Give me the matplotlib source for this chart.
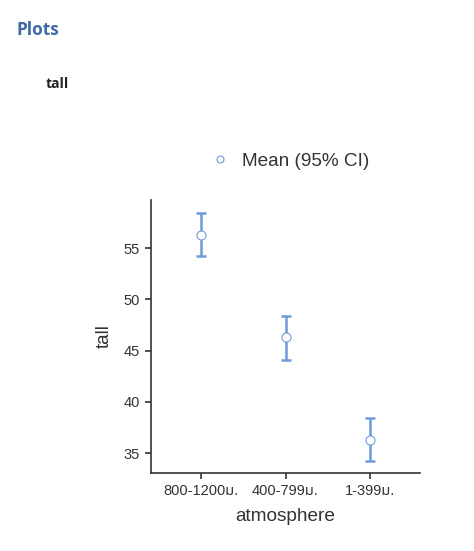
import matplotlib
matplotlib.use("Agg")
import matplotlib.pyplot as plt
from matplotlib.lines import Line2D

categories = ["800-1200ม.", "400-799ม.", "1-399ม."]
means = [56.3, 46.3, 36.3]
ci_low = [54.2, 44.1, 34.2]
ci_high = [58.4, 48.4, 38.4]
yticks = [35, 40, 45, 50, 55]

blue = "#6f9bd8"
fam = ["Liberation Sans", "Noto Sans Thai"]

fig = plt.figure(figsize=(4.74, 5.51), dpi=100)
W, H = 474, 551
# axes box in pixels: left 151, right 420, top 200, bottom 473
ax = fig.add_axes([151 / W, 1 - 473 / H, (420 - 151) / W, (473 - 200) / H])

x = list(range(len(categories)))
err = [[m - lo for m, lo in zip(means, ci_low)],
       [hi - m for m, hi in zip(means, ci_high)]]
ax.errorbar(x, means, yerr=err, fmt="none", ecolor=blue, elinewidth=1.8,
            capsize=3.5, capthick=1.8)
ax.plot(x, means, "o", ms=6.5, mfc="white", mec=blue, mew=0.8, zorder=3)

ax.set_xlim(-0.6, 2.6)
ax.set_ylim(33.05, 59.7)
ax.set_yticks(yticks)
ax.set_xticks(x)
ax.set_xticklabels(categories, family=fam, fontsize=10.5, color="#333333")
for lab in ax.get_yticklabels():
    lab.set_family(fam)
    lab.set_fontsize(10.5)
    lab.set_color("#333333")
ax.tick_params(length=4, width=1.2, color="#333333", pad=4)
for s in ["top", "right"]:
    ax.spines[s].set_visible(False)
for s in ["left", "bottom"]:
    ax.spines[s].set_linewidth(1.2)
    ax.spines[s].set_color("#333333")

ax.set_xlabel("atmosphere", family=fam, fontsize=13.7, color="#333333", labelpad=7)
ax.set_ylabel("tall", family=fam, fontsize=13.7, color="#333333", labelpad=8)

# legend above the plot
handle = Line2D([], [], marker="o", ls="none", ms=5, mfc="white", mec=blue, mew=0.8)
fig.legend([handle], ["Mean (95% CI)"], loc="center left",
           bbox_to_anchor=(210.5 / W, 1 - 161 / H), frameon=False,
           prop={"family": fam, "size": 13.7}, handlelength=1.0,
           handletextpad=0.64, borderpad=0, borderaxespad=0,
           labelcolor="#333333")

fig.text(16 / W, 1 - 30 / H, "Plots", family=["Open Sans"], fontweight="bold",
         fontsize=12.5, color="#3e6aa8", va="center")
fig.text(46 / W, 1 - 84 / H, "tall", family=["Open Sans"], fontweight="bold",
         fontsize=10, color="#222222", va="center")

fig.savefig("out.png")
